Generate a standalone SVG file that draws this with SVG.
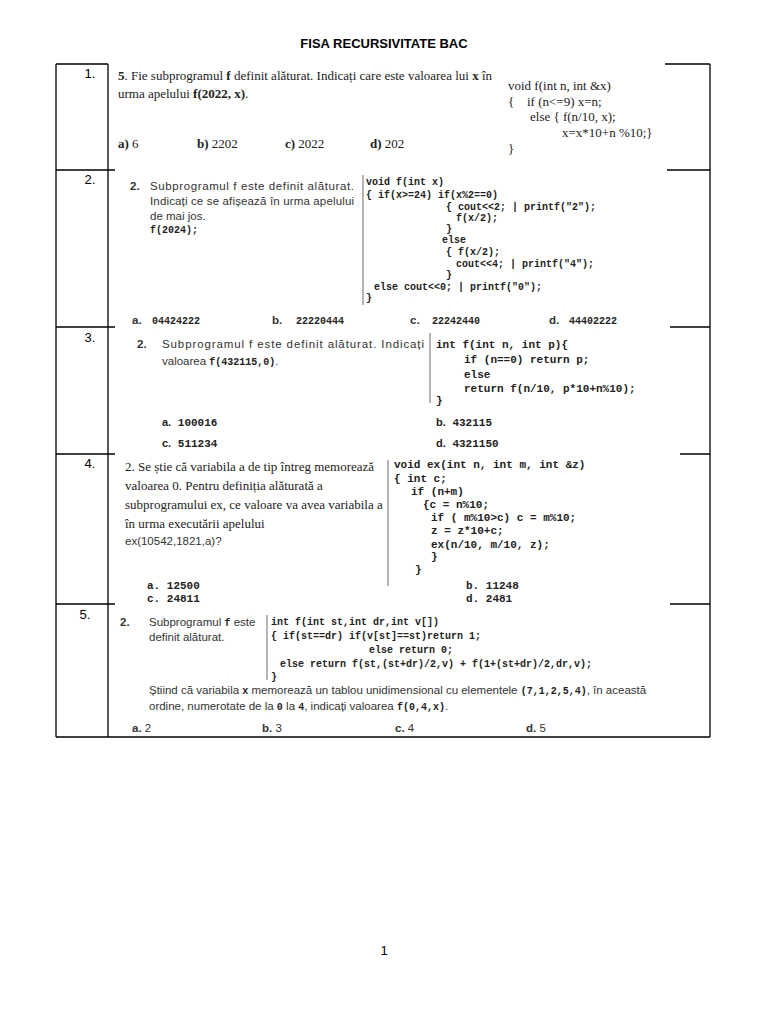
<svg xmlns="http://www.w3.org/2000/svg" width="768" height="1024" viewBox="0 0 768 1024">
<style>
.ln{stroke:#000;stroke-width:1.3;fill:none}
.vl{stroke:#444;stroke-width:0.8}
.n{font-family:"Liberation Sans",Arial,sans-serif;font-size:13px;fill:#000}
.s{font-family:"Liberation Serif","Times New Roman",serif;font-size:13px;fill:#222}
.a{font-family:"Liberation Sans",Arial,sans-serif;font-size:11.5px;fill:#333}
.c{font-family:"Liberation Mono","Courier New",monospace;font-size:11px;font-weight:bold;fill:#222}
.c2{font-family:"Liberation Mono","Courier New",monospace;font-size:10px;font-weight:bold;fill:#222}
.b{font-weight:bold}
</style>
<rect width="768" height="1024" fill="#fff"/>
<text x="384" y="48" text-anchor="middle" class="n b" font-size="11.5">FISA RECURSIVITATE BAC</text>
<g id="table">
<path class="ln" d="M56 64H108M665 64H710M56 170H115M667 170H710M56 327H115M670 327H710M56 454H115M680 454H710M56 604H115M670 604H710M56 737H710M56 64V737M108 64V737M710 64V737"/>
</g>
<g id="q1">
<text x="90" y="78" class="n" text-anchor="middle">1.</text>
<text x="118" y="80" class="s"><tspan class="b">5</tspan>. Fie subprogramul <tspan class="b">f</tspan> definit alăturat. Indicați care este valoarea lui <tspan class="b">x</tspan> în</text>
<text x="118" y="98" class="s">urma apelului <tspan class="b">f(2022, x)</tspan>.</text>
<text x="118" y="148" class="s"><tspan class="b">a)</tspan> 6</text>
<text x="197" y="148" class="s"><tspan class="b">b)</tspan> 2202</text>
<text x="285" y="148" class="s"><tspan class="b">c)</tspan> 2022</text>
<text x="370" y="148" class="s"><tspan class="b">d)</tspan> 202</text>
<text x="508" y="90" class="s">void f(int n, int &amp;x)</text>
<text x="508" y="106" class="s">{</text>
<text x="527" y="106" class="s">if (n&lt;=9) x=n;</text>
<text x="530" y="121" class="s">else { f(n/10, x);</text>
<text x="562" y="137" class="s">x=x*10+n %10;}</text>
<text x="508" y="153" class="s">}</text>
</g>
<g id="q2">
<text x="90" y="184" class="n" text-anchor="middle">2.</text>
<text x="130" y="190" class="a"><tspan class="b">2.</tspan></text>
<text x="150" y="190" class="a" textLength="204">Subprogramul  f  este  definit  alăturat.</text>
<text x="150" y="205" class="a" textLength="204">Indicați  ce  se  afișează  în  urma  apelului</text>
<text x="150" y="220" class="a">de mai jos.</text>
<text x="150" y="233" class="c2">f(2024);</text>
<line class="vl" x1="363" y1="175" x2="363" y2="305"/>
<text x="366" y="185" class="c2">void f(int x)</text>
<text x="366" y="198" class="c2">{ if(x&gt;=24) if(x%2==0)</text>
<text x="446" y="210" class="c2">{ cout&lt;&lt;2;  | printf("2");</text>
<text x="456" y="221" class="c2">f(x/2);</text>
<text x="446" y="232" class="c2">}</text>
<text x="442" y="243" class="c2">else</text>
<text x="446" y="255" class="c2">{ f(x/2);</text>
<text x="456" y="267" class="c2">cout&lt;&lt;4;  | printf("4");</text>
<text x="446" y="278" class="c2">}</text>
<text x="374" y="290" class="c2">else cout&lt;&lt;0;  |  printf("0");</text>
<text x="366" y="301" class="c2">}</text>
<text x="132" y="324" class="a"><tspan class="b">a.</tspan></text>
<text x="152" y="324" class="c2">04424222</text>
<text x="272" y="324" class="a"><tspan class="b">b.</tspan></text>
<text x="296" y="324" class="c2">22220444</text>
<text x="410" y="324" class="a"><tspan class="b">c.</tspan></text>
<text x="432" y="324" class="c2">22242440</text>
<text x="549" y="324" class="a"><tspan class="b">d.</tspan></text>
<text x="569" y="324" class="c2">44402222</text>
</g>
<g id="q3">
<text x="90" y="342" class="n" text-anchor="middle">3.</text>
<text x="137" y="348" class="a"><tspan class="b">2.</tspan></text>
<text x="162" y="348" class="a" textLength="262">Subprogramul  f  este  definit  alăturat.  Indicați</text>
<text x="162" y="365" class="a">valoarea <tspan class="c2">f(432115,0)</tspan>.</text>
<line class="vl" x1="430" y1="333" x2="430" y2="403"/>
<text x="436" y="348" class="c">int f(int n, int p){</text>
<text x="464" y="363" class="c">if (n==0) return p;</text>
<text x="464" y="378" class="c">else</text>
<text x="464" y="392" class="c">return f(n/10, p*10+n%10);</text>
<text x="436" y="404" class="c">}</text>
<text x="162" y="426" class="c"><tspan font-family="Liberation Sans">a.</tspan> 100016</text>
<text x="436" y="426" class="c"><tspan font-family="Liberation Sans">b.</tspan> 432115</text>
<text x="162" y="447" class="c"><tspan font-family="Liberation Sans">c.</tspan> 511234</text>
<text x="436" y="447" class="c"><tspan font-family="Liberation Sans">d.</tspan> 4321150</text>
</g>
<g id="q4">
<text x="90" y="468" class="n" text-anchor="middle">4.</text>
<text x="125" y="471" class="s" font-size="12.5">2. Se știe că variabila a de tip întreg memorează</text>
<text x="125" y="490" class="s" font-size="12.5">valoarea 0. Pentru definiția alăturată a</text>
<text x="125" y="509" class="s" font-size="12.5">subprogramului ex, ce valoare  va avea variabila a</text>
<text x="125" y="528" class="s" font-size="12.5">în urma executării apelului</text>
<text x="125" y="545" class="a" fill="#777">ex(10542,1821,a)?</text>
<line class="vl" x1="388" y1="460" x2="388" y2="586"/>
<text x="394" y="468" class="c">void ex(int n, int m, int &amp;z)</text>
<text x="394" y="482" class="c">{ int c;</text>
<text x="411" y="495" class="c">if (n+m)</text>
<text x="423" y="508" class="c">{c = n%10;</text>
<text x="431" y="521" class="c">if ( m%10&gt;c) c = m%10;</text>
<text x="431" y="534" class="c">z = z*10+c;</text>
<text x="431" y="548" class="c">ex(n/10, m/10, z);</text>
<text x="431" y="560" class="c">}</text>
<text x="415" y="573" class="c">}</text>
<text x="147" y="589" class="c">a. 12500</text>
<text x="466" y="589" class="c">b. 11248</text>
<text x="147" y="602" class="c">c. 24811</text>
<text x="466" y="602" class="c">d. 2481</text>
</g>
<g id="q5">
<text x="85" y="619" class="n" text-anchor="middle">5.</text>
<text x="120" y="626" class="a"><tspan class="b">2.</tspan></text>
<text x="149" y="626" class="a">Subprogramul  <tspan class="c2">f</tspan>  este</text>
<text x="149" y="641" class="a">definit alăturat.</text>
<line class="vl" x1="267" y1="615" x2="267" y2="680"/>
<text x="271" y="625" class="c2">int f(int st,int dr,int v[])</text>
<text x="271" y="639" class="c2">{ if(st==dr) if(v[st]==st)return 1;</text>
<text x="369" y="653" class="c2">else return 0;</text>
<text x="280" y="667" class="c2">else return f(st,(st+dr)/2,v) + f(1+(st+dr)/2,dr,v);</text>
<text x="271" y="680" class="c2">}</text>
<text x="149" y="694" class="a">Știind că variabila <tspan class="c2">x</tspan> memorează un tablou unidimensional cu elementele <tspan class="c2">(7,1,2,5,4)</tspan>, în această</text>
<text x="149" y="710" class="a">ordine,  numerotate de la <tspan class="c2">0</tspan> la <tspan class="c2">4</tspan>, indicați valoarea <tspan class="c2">f(0,4,x)</tspan>.</text>
<text x="132" y="732" class="a"><tspan class="b">a.</tspan> 2</text>
<text x="262" y="732" class="a"><tspan class="b">b.</tspan> 3</text>
<text x="395" y="732" class="a"><tspan class="b">c.</tspan> 4</text>
<text x="526" y="732" class="a"><tspan class="b">d.</tspan> 5</text>
</g>
<text x="384" y="955" text-anchor="middle" class="n" font-size="12">1</text>
</svg>
